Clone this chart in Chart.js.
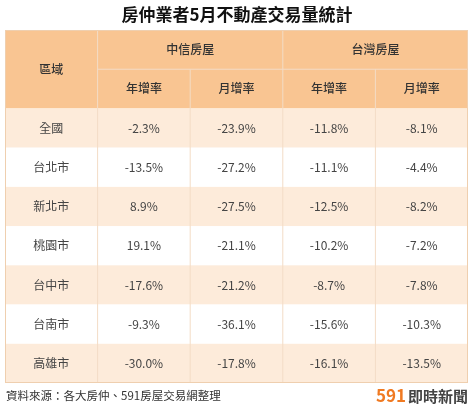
<!DOCTYPE html>
<html><head><meta charset="utf-8">
<script src="https://cdn.jsdelivr.net/npm/chart.js@4"></script>
<style>html,body{margin:0;padding:0;background:#fff}#wrap{width:474px;height:408px}</style>
</head><body><div id="wrap"><canvas id="c"></canvas></div>
<script>
const title = '房仲業者5月不動產交易量統計';
const groups = ['中信房屋', '台灣房屋'];
const subHeaders = ['年增率', '月增率', '年增率', '月增率'];
const regions = ['全國', '台北市', '新北市', '桃園市', '台中市', '台南市', '高雄市'];
const zhongxinYoY = [-2.3, -13.5, 8.9, 19.1, -17.6, -9.3, -30.0];
const zhongxinMoM = [-23.9, -27.2, -27.5, -21.1, -21.2, -36.1, -17.8];
const taiwanYoY = [-11.8, -11.1, -12.5, -10.2, -8.7, -15.6, -16.1];
const taiwanMoM = [-8.1, -4.4, -8.2, -7.2, -7.8, -10.3, -13.5];
const source = '資料來源：各大房仲、591房屋交易網整理';
const colKeys = ['區域', 'c1', 'c2', 'c3', 'c4'];
const rowKeys = ['g', 'h'].concat(regions);
const series = [zhongxinYoY, zhongxinMoM, taiwanYoY, taiwanMoM];
const FONT = '"Noto Sans CJK TC","Noto Sans",sans-serif';

const tablePlugin = {
  id: 'table',
  afterDraw(chart) {
    const ctx = chart.ctx, x = chart.scales.x, y = chart.scales.y;
    const bw = x.width / colKeys.length, bh = y.height / rowKeys.length;
    const cx = i => x.getPixelForValue(i), cy = j => y.getPixelForValue(j);
    ctx.save();
    // header background
    ctx.fillStyle = '#F9C592';
    ctx.fillRect(x.left, y.top, x.width, bh * 2);
    // data rows
    regions.forEach((r, j) => {
      ctx.fillStyle = j % 2 === 0 ? '#FDEBDA' : '#FFFFFF';
      ctx.fillRect(x.left, cy(j + 2) - bh / 2, x.width, bh);
    });
    // grid lines
    ctx.strokeStyle = '#F3DCC6'; ctx.lineWidth = 1;
    for (let i = 1; i < colKeys.length; i++) {
      const px = x.left + bw * i;
      ctx.beginPath();
      ctx.moveTo(px, i === 2 || i === 4 ? y.top + bh : y.top);
      ctx.lineTo(px, y.bottom); ctx.stroke();
    }
    ctx.beginPath(); ctx.moveTo(x.left + bw, y.top + bh); ctx.lineTo(x.right, y.top + bh); ctx.stroke();
    ctx.strokeStyle = '#EFCFAF';
    ctx.strokeRect(x.left + 0.5, y.top + 0.5, x.width - 1, y.height - 1);
    ctx.textAlign = 'center'; ctx.textBaseline = 'middle';
    ctx.fillStyle = '#333';
    ctx.font = '500 12px ' + FONT;
    ctx.fillText('區域', cx(0), y.top + bh);
    groups.forEach((g, k) => ctx.fillText(g, x.left + bw * (1 + 2 * k + 1), cy(0)));
    subHeaders.forEach((s, k) => ctx.fillText(s, cx(k + 1), cy(1)));
    ctx.font = '12px ' + FONT;
    regions.forEach((r, j) => {
      ctx.fillStyle = '#444';
      ctx.fillText(r, cx(0), cy(j + 2));
      series.forEach((s, k) => ctx.fillText(s[j].toFixed(1) + '%', cx(k + 1), cy(j + 2)));
    });
    // title
    ctx.fillStyle = '#111'; ctx.font = 'bold 17px ' + FONT;
    ctx.fillText(title, chart.width / 2, 15);
    // footer
    ctx.textAlign = 'left'; ctx.fillStyle = '#333'; ctx.font = '11.5px ' + FONT;
    ctx.fillText(source, 6, 396);
    ctx.textAlign = 'right'; ctx.font = 'bold 15px ' + FONT;
    ctx.fillStyle = '#444'; ctx.fillText('即時新聞', 468, 396);
    const w = ctx.measureText('即時新聞').width;
    ctx.fillStyle = '#F07A22'; ctx.font = 'bold 17px ' + FONT;
    ctx.fillText('591', 468 - w - 2, 396);
    ctx.restore();
  }
};

new Chart(document.getElementById('c'), {
  type: 'bar',
  data: { labels: colKeys, datasets: [{ data: [], yAxisID: 'y' }] },
  options: {
    responsive: true, maintainAspectRatio: false, animation: false,
    layout: { padding: { left: 5, right: 6, top: 30, bottom: 25 } },
    plugins: { legend: { display: false }, tooltip: { enabled: false } },
    scales: {
      x: { type: 'category', labels: colKeys, offset: true, display: false },
      y: { type: 'category', labels: rowKeys, offset: true, display: false }
    }
  },
  plugins: [tablePlugin]
});
</script></body></html>
